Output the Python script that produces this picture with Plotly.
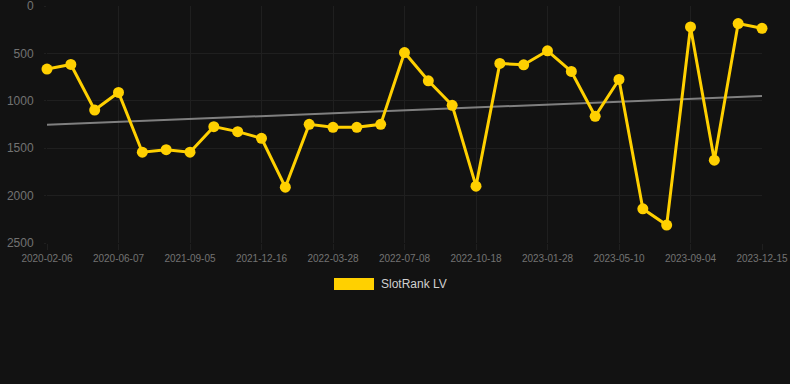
import numpy as np
import plotly.graph_objects as go

# Data
tick_labels = ["2020-02-06", "2020-06-07", "2021-09-05", "2021-12-16", "2022-03-28",
               "2022-07-08", "2022-10-18", "2023-01-28", "2023-05-10", "2023-09-04", "2023-12-15"]
rank_values = [665, 616, 1097, 911, 1542, 1515, 1542, 1272, 1325, 1395, 1911,
               1248, 1279, 1279, 1248, 490, 788, 1047, 1900, 605, 620, 472,
               690, 1163, 774, 2139, 2311, 220, 1626, 184, 234]
series_name = "SlotRank LV"

idx = list(range(len(rank_values)))
tick_positions = idx[::3]

# linear trend through the series
slope, intercept = np.polyfit(idx, rank_values, 1)
trend = [slope * i + intercept for i in (idx[0], idx[-1])]

BG = "#121212"
GOLD = "#FFD000"
GRID = "#1f1f1f"
TICK = "#727272"

fig = go.Figure()
fig.add_trace(go.Scatter(
    x=[idx[0], idx[-1]], y=trend, mode="lines",
    line=dict(color="rgba(140,140,140,0.9)", width=2),
    showlegend=False, hoverinfo="skip", cliponaxis=False))
fig.add_trace(go.Scatter(
    x=idx, y=rank_values, mode="lines+markers", name=series_name,
    line=dict(color=GOLD, width=3),
    marker=dict(color=GOLD, size=11),
    showlegend=False, cliponaxis=False))

# legend swatch + text
fig.add_shape(type="rect", xref="paper", yref="paper",
              x0=(334 - 47) / 715, x1=(374 - 47) / 715,
              y0=(243 - 278) / 237, y1=(243 - 290) / 237,
              fillcolor=GOLD, line=dict(width=0))
fig.add_annotation(xref="paper", yref="paper", x=(379 - 47) / 715, y=(243 - 284) / 237,
                   text=series_name, showarrow=False, xanchor="left", yanchor="middle",
                   font=dict(size=12, color="#d0d0d0", family="Arial, Liberation Sans"))

fig.update_layout(
    width=790, height=384,
    margin=dict(l=47, r=28, t=6, b=141, autoexpand=False),
    paper_bgcolor=BG, plot_bgcolor=BG,
    font=dict(family="Arial, Liberation Sans", color=TICK),
    showlegend=False,
    xaxis=dict(range=[0, len(idx) - 1], tickvals=tick_positions, ticktext=tick_labels,
               showgrid=True, gridcolor=GRID, gridwidth=1, zeroline=False,
               ticks="outside", ticklen=6, tickcolor=GRID, tickangle=0,
               tickfont=dict(size=10, color=TICK), showline=False,
               ticklabeloverflow="allow", automargin=False),
    yaxis=dict(range=[2500, -1], tickvals=[0, 500, 1000, 1500, 2000, 2500],
               showgrid=True, gridcolor=GRID, gridwidth=1, zeroline=False,
               ticks="outside", ticklen=2, tickcolor=GRID,
               tickfont=dict(size=12, color=TICK), ticklabelstandoff=8, showline=False,
               ticklabeloverflow="allow", automargin=False),
)

fig.write_html("out.html",
               config={"displayModeBar": False},
               post_script="document.body.style.margin='0';"
                           "document.body.style.background='#121212';"
                           "document.body.style.overflow='hidden';")
